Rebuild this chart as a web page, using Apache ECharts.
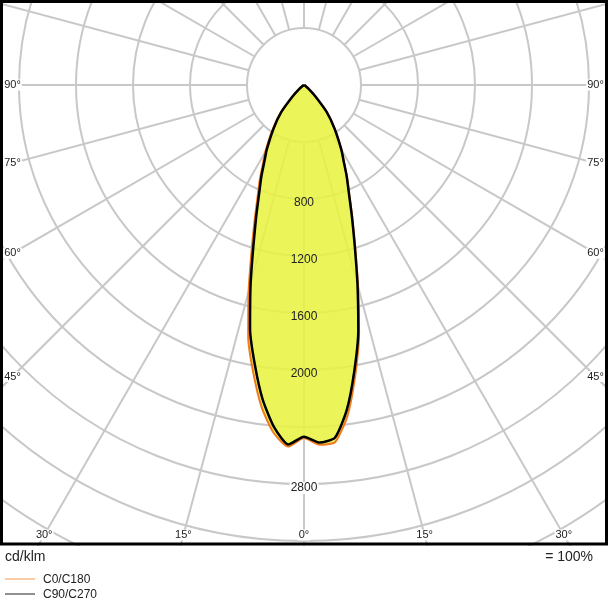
<!DOCTYPE html>
<html><head><meta charset="utf-8">
<script src="https://cdn.jsdelivr.net/npm/echarts@6/dist/echarts.min.js"></script>
<style>html,body{margin:0;padding:0;background:#fff}#c{width:608px;height:600px}</style>
</head><body><div id="c"></div>
<script>
// ---- data (gamma angle in degrees, intensity in cd/klm) ----
const gammas = [0,2.5,5,7.5,10,12.5,15,17.5,20,22.5,25,27.5,30,35,40,45,50,55,60,65,70,75,80,85,90];
const c0   = [2478,2527,2515,2340,2070,1786,1466,1195,992,830,714,606,526,375,248,112,46,15,5,2,0,0,0,0,0];
const c180 = [2478,2540,2450,2280,2050,1810,1503,1225,1015,852,736,625,544,387,257,115,47,15,5,2,0,0,0,0,0];
const c90  = [2468,2512,2485,2300,2035,1761,1451,1185,984,824,710,603,524,373,247,110,45,15,5,2,0,0,0,0,0];
const c270 = [2468,2525,2410,2225,1990,1750,1448,1180,980,822,708,600,522,372,247,110,45,15,5,2,0,0,0,0,0];
const seriesNames = ['C0/C180','C90/C270'];
const radiusLabels = [800,1200,1600,2000,2800];
const sideAngleLabels = [90,75,60,45];
const bottomAngleLabels = [30,15,0];
const unitText = 'cd/klm';
const scaleText = '= 100%';

// ---- layout ----
const CX = 304, CY = 85, STEP = 400, PX_STEP = 57, RMAX = 4000;
const R = RMAX / STEP * PX_STEP;
const FONT = '"Liberation Sans", Arial, Helvetica, sans-serif';
const GRID = '#c8c8c8';

function loop(left, right) {
  const pts = [];
  for (let i = gammas.length - 1; i >= 1; i--) pts.push([left[i], 360 - gammas[i]]);
  pts.push([(left[0] + right[0]) / 2, 0]);
  for (let i = 1; i < gammas.length; i++) pts.push([right[i], gammas[i]]);
  return pts;
}

const chart = echarts.init(document.getElementById('c'), null, {renderer: 'canvas'});
chart.setOption({
  animation: false,
  backgroundColor: '#fff',
  polar: [
    {center: [CX, CY], radius: [PX_STEP, R]},
    {center: [CX, CY], radius: [0, R]}
  ],
  angleAxis: [
    {polarIndex: 0, type: 'value', min: 0, max: 360, interval: 15, startAngle: 270, clockwise: false,
     axisLine: {show: false}, axisTick: {show: false}, axisLabel: {show: false},
     splitLine: {show: true, lineStyle: {color: GRID, width: 2}}},
    {polarIndex: 1, type: 'value', min: 0, max: 360, interval: 15, startAngle: 270, clockwise: false, show: false}
  ],
  radiusAxis: [
    {polarIndex: 0, type: 'value', min: STEP, max: RMAX, interval: STEP,
     axisLine: {show: false}, axisTick: {show: false}, axisLabel: {show: false},
     splitLine: {show: true, lineStyle: {color: GRID, width: 2}}},
    {polarIndex: 1, type: 'value', min: 0, max: RMAX, interval: STEP, show: false}
  ],
  series: [
    {type: 'line', name: seriesNames[0], coordinateSystem: 'polar', polarIndex: 1,
     data: loop(c180, c0), smooth: 0.2, symbol: 'none', clip: false,
     lineStyle: {color: '#f07a1c', width: 2},
     areaStyle: {color: 'rgb(232,243,65)', opacity: 0.87}, z: 2},
    {type: 'line', name: seriesNames[1], coordinateSystem: 'polar', polarIndex: 1,
     data: loop(c270, c90), smooth: 0.2, symbol: 'none', clip: false,
     lineStyle: {color: '#000', width: 2.5, join: 'miter'}, z: 3}
  ]
});

// ---- texts & frame positioned from the polar scale ----
const toPx = (r, a) => chart.convertToPixel({polarIndex: 1}, [r, a]);
const c = toPx(0, 0);
const els = [];
els.push({type: 'rect', z: 90, shape: {x: 0, y: 546, width: 608, height: 60}, style: {fill: '#fff'}});
els.push({type: 'rect', z: 95, shape: {x: 1.5, y: 1.5, width: 605, height: 542.5}, style: {fill: null, stroke: '#000', lineWidth: 3}});

const peak = Math.max(...c0, ...c90, ...c180, ...c270);
radiusLabels.forEach(v => {
  const p = toPx(v, 0);
  els.push({type: 'text', z: 100, x: p[0], y: p[1] + 4,
    style: {text: String(v), font: '12px ' + FONT, fill: '#222', align: 'center', verticalAlign: 'middle',
      backgroundColor: v > peak ? '#fff' : null, padding: [0, 1]}});
});
sideAngleLabels.forEach(g => {
  [[360 - g, 12.5], [g, 595.5]].forEach(([a, x]) => {
    const p = toPx(1000, a);
    const y = c[1] + (x - c[0]) * (p[1] - c[1]) / (p[0] - c[0]);
    els.push({type: 'text', z: 100, x: x, y: y,
      style: {text: g + '°', font: '11px ' + FONT, fill: '#222', align: 'center', verticalAlign: 'middle',
        backgroundColor: '#fff', padding: [0, 1]}});
  });
});
bottomAngleLabels.forEach(g => {
  const list = g === 0 ? [0] : [360 - g, g];
  list.forEach(a => {
    const p = toPx(1000, a);
    const y = 535;
    const x = c[0] + (y - c[1]) * (p[0] - c[0]) / (p[1] - c[1]);
    els.push({type: 'text', z: 100, x: x, y: y,
      style: {text: g + '°', font: '11px ' + FONT, fill: '#222', align: 'center', verticalAlign: 'middle',
        backgroundColor: '#fff', padding: [0, 1]}});
  });
});
els.push({type: 'text', z: 100, x: 5, y: 557, style: {text: unitText, font: '14px ' + FONT, fill: '#222', verticalAlign: 'middle'}});
els.push({type: 'text', z: 100, x: 593, y: 557, style: {text: scaleText, font: '14px ' + FONT, fill: '#222', align: 'right', verticalAlign: 'middle'}});
const legendColors = ['#f39a50', '#222'];
seriesNames.forEach((n, i) => {
  const y = 579 + i * 15;
  els.push({type: 'line', z: 100, shape: {x1: 5, y1: y, x2: 35, y2: y}, style: {stroke: legendColors[i], lineWidth: 1}});
  els.push({type: 'text', z: 100, x: 43, y: y + 0.5, style: {text: n, font: '12px ' + FONT, fill: '#222', verticalAlign: 'middle'}});
});
chart.setOption({graphic: {elements: els}});
</script></body></html>
